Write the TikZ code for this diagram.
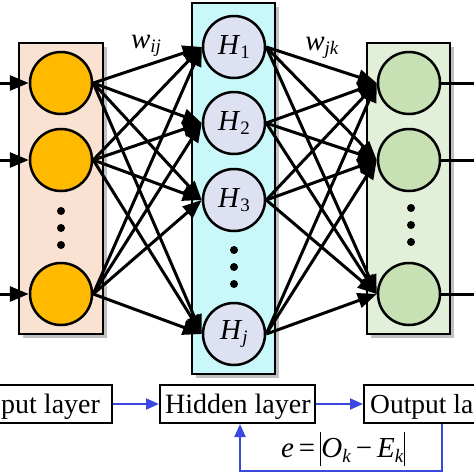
\documentclass[tikz,border=0pt]{standalone}
\usepackage{fontspec}
\setmainfont{Liberation Serif}
\usetikzlibrary{arrows.meta,shadows}
\definecolor{inboxc}{HTML}{FAE2D2}
\definecolor{incirc}{HTML}{FFBA00}
\definecolor{hidboxc}{HTML}{C8F8FA}
\definecolor{hidcirc}{HTML}{DDE1F2}
\definecolor{outboxc}{HTML}{E2EFD9}
\definecolor{outcirc}{HTML}{C7E1B5}
\definecolor{flowblue}{HTML}{3A48E0}
\newcommand{\sbs}[1]{\raisebox{-0.35ex}{\fontsize{19}{19}\selectfont #1}}
\newcommand{\vbarx}{\rule[-0.3em]{1.3pt}{1.2em}}
\begin{document}
\begin{tikzpicture}[x=1pt,y=-1pt,
  layerbox/.style={draw=black, line width=2.6pt, inner sep=0pt,
    drop shadow={shadow xshift=4pt, shadow yshift=-4pt, opacity=0.35, fill=black!70}},
  neuron/.style={circle, draw=black, line width=2.5pt, minimum size=62pt, inner sep=0pt,
    font=\fontsize{29}{30}\selectfont},
  dotc/.style={circle, fill=black, inner sep=0pt, minimum size=8pt},
  conn/.style={line width=3pt, -{Triangle[length=19pt,width=15pt]}},
  plain/.style={line width=3pt},
  labbox/.style={draw=black, line width=2pt, minimum height=38pt, inner sep=0pt},
  labtext/.style={font=\fontsize{28}{30}\selectfont, inner sep=0pt, anchor=base west},
  flow/.style={draw=flowblue, line width=2pt, -{Triangle[length=13pt,width=11pt]}},
  wlab/.style={font=\fontsize{29}{30}\selectfont, inner sep=0pt}
]
\useasboundingbox (0,0) rectangle (474,474);
\clip (0,0) rectangle (474,474);

% layer boxes
\node[layerbox, fill=inboxc, minimum width=84pt, minimum height=291pt] (inbox) at (61,188.5) {};
\node[layerbox, fill=hidboxc, minimum width=83pt, minimum height=371pt] (hidbox) at (233.5,188.5) {};
\node[layerbox, fill=outboxc, minimum width=83pt, minimum height=291pt] (outbox) at (408.5,188.5) {};

% input neurons
\node[neuron, fill=incirc] (i1) at (61,83) {};
\node[neuron, fill=incirc] (i2) at (61,160) {};
\node[neuron, fill=incirc] (i3) at (61,294) {};
\node[dotc] (id1) at (61,211) {};
\node[dotc] (id2) at (61,228) {};
\node[dotc] (id3) at (61,245) {};

% hidden neurons
\node[neuron, fill=hidcirc] (h1) at (234,47) {\textit{H}\sbs{1}};
\node[neuron, fill=hidcirc] (h2) at (234,123) {\textit{H}\sbs{2}};
\node[neuron, fill=hidcirc] (h3) at (234,200) {\textit{H}\sbs{3}};
\node[neuron, fill=hidcirc] (h4) at (234,334) {\textit{H}\sbs{\textit{j}}};
\node[dotc] (hd1) at (234,250) {};
\node[dotc] (hd2) at (234,267) {};
\node[dotc] (hd3) at (234,284) {};

% output neurons
\node[neuron, fill=outcirc] (o1) at (409,83) {};
\node[neuron, fill=outcirc] (o2) at (409,160) {};
\node[neuron, fill=outcirc] (o3) at (409,294) {};
\node[dotc] (od1) at (411,208) {};
\node[dotc] (od2) at (411,225) {};
\node[dotc] (od3) at (411,242) {};

% inputs and outputs
\foreach \k/\yy in {1/83,2/160,3/294}{
  \coordinate (is\k) at (-6,\yy);
  \coordinate (oe\k) at (480,\yy);
  \draw[conn] (is\k) -- (i\k.west);
  \draw[plain] (o\k.east) -- (oe\k);
}

% connections
\foreach \a in {1,2,3}{
  \foreach \b in {1,2,3,4}{
    \draw[conn] (i\a.east) -- (h\b.west);
  }
}
\foreach \a in {1,2,3,4}{
  \foreach \b in {1,2,3}{
    \draw[conn] (h\a.east) -- (o\b.west);
  }
}

% weight labels
\node[wlab] (wij) at (146,46) {\textit{w}\sbs{\textit{ij}}};
\node[wlab] (wjk) at (322,48) {\textit{w}\sbs{\textit{jk}}};

% flow chart
\node[labbox, minimum width=147pt] (bin) at (38.5,404) {};
\node[labbox, minimum width=155pt] (bhid) at (237.5,404) {};
\node[labbox, minimum width=161pt] (bout) at (444.5,404) {};
\node[labtext] (tin) at (1,413) {put layer};
\node[labtext] (thid) at (165,413) {Hidden layer};
\node[labtext, font=\fontsize{27.5}{30}\selectfont] (tout) at (370,413) {Output la};
\draw[flow] (bin.east) -- (bhid.west);
\draw[flow] (bhid.east) -- (bout.west);
\coordinate (fb1) at (442,471);
\coordinate (fb2) at (240,471);
\draw[flow] (bout.south -| fb1) -- (fb1) -- (fb2) -- (bhid.south -| fb2);
\node[font=\fontsize{29}{30}\selectfont, inner sep=0pt] (err) at (343,449)
  {\textit{e}\,=\,\vbarx\textit{O}\sbs{\textit{k}}\,−\,\textit{E}\sbs{\textit{k}}\vbarx};
\end{tikzpicture}
\end{document}
